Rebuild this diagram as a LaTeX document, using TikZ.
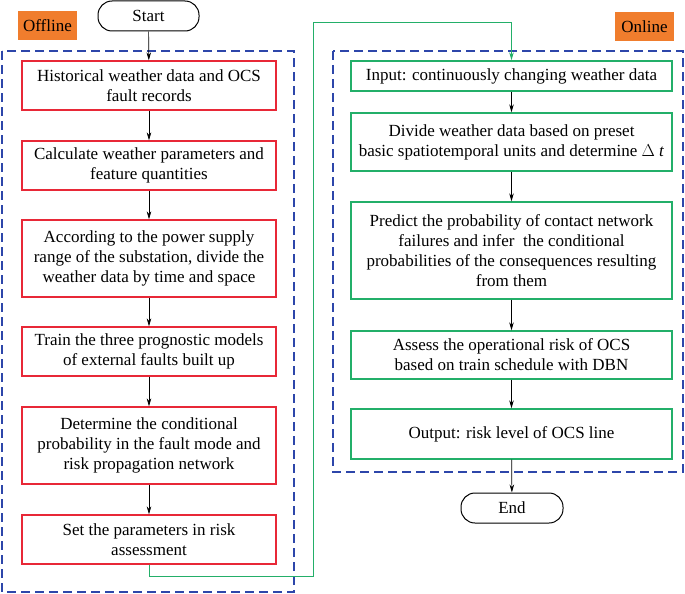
\documentclass[tikz,border=0pt]{standalone}
\usepackage{fontspec}
\setmainfont{Liberation Serif}
\usetikzlibrary{arrows.meta}
\definecolor{redb}{RGB}{232,40,55}
\definecolor{greenb}{RGB}{35,175,105}
\definecolor{blued}{RGB}{45,70,170}
\definecolor{orangef}{RGB}{240,125,45}
\begin{document}
\begin{tikzpicture}[x=1pt,y=-1pt,font=\fontsize{17}{20}\selectfont,
  rbox/.style={draw=redb,line width=1.3pt,align=center,inner sep=0pt,minimum width=254pt},
  gbox/.style={draw=greenb,line width=1.3pt,align=center,inner sep=0pt,minimum width=321pt},
  term/.style={draw,line width=1pt,rounded corners=14pt,inner sep=0pt,minimum height=30pt},
  tag/.style={fill=orangef,inner sep=0pt,minimum width=59pt,minimum height=29pt},
  arr/.style={-{Stealth[length=8pt,width=4.5pt]},line width=0.7pt},
  dbox/.style={draw=blued,line width=1.6pt,dash pattern=on 9pt off 5pt}]
\useasboundingbox (0,0) rectangle (685,594);
% dashed regions
\draw[dbox] (2,51) rectangle (294,592);
\draw[dbox] (333,51) rectangle (683,472);
% labels
\node[tag] (offline) at (47.5,26) {Offline};
\node[tag] (online) at (644.5,26.5) {Online};
% terminals
\node[term,minimum width=101pt] (start) at (148.5,16) {Start};
\node[term,minimum width=102pt] (end) at (512,508) {End};
% offline steps
\node[rbox,minimum height=49pt] (r1) at (149,85.5) {Historical weather data and OCS\\fault records};
\node[rbox,minimum height=49pt] (r2) at (149,165.5) {Calculate weather parameters and\\feature quantities};
\node[rbox,minimum height=77pt] (r3) at (149,258.5) {According to the power supply\\range of the substation, divide the\\weather data by time and space};
\node[rbox,minimum height=49pt] (r4) at (149,351.5) {Train the three prognostic models\\of external faults built up};
\node[rbox,minimum height=77pt] (r5) at (149,445.5) {Determine the conditional\\probability in the fault mode and\\risk propagation network};
\node[rbox,minimum height=49pt] (r6) at (149,539.5) {Set the parameters in risk\\assessment};
% online steps
\node[gbox,minimum height=30pt] (g1) at (511.5,76) {Input: continuously changing weather data};
\node[gbox,minimum height=58pt] (g2) at (511.5,142) {Divide weather data based on preset\\basic spatiotemporal units and determine $\Delta$ \textit{t}};
\node[gbox,minimum height=97pt] (g3) at (511.5,250.5) {Predict the probability of contact network\\failures and infer\ \ the conditional\\probabilities of the consequences resulting\\from them};
\node[gbox,minimum height=48pt] (g4) at (511.5,355) {Assess the operational risk of OCS\\based on train schedule with DBN};
\node[gbox,minimum height=50pt] (g5) at (511.5,434) {Output: risk level of OCS line};
% connectors
\draw[arr] (start) -- (r1);
\draw[arr] (r1) -- (r2);
\draw[arr] (r2) -- (r3);
\draw[arr] (r3) -- (r4);
\draw[arr] (r4) -- (r5);
\draw[arr] (r5) -- (r6);
\draw[arr] (g1) -- (g2);
\draw[arr] (g2) -- (g3);
\draw[arr] (g3) -- (g4);
\draw[arr] (g4) -- (g5);
\draw[arr] (g5) -- (end);
\coordinate (c1) at (313,576);
\coordinate (c2) at (313,23);
\draw[arr,draw=greenb,line width=1pt] (r6.south) |- (c1) -- (c2) -| (g1.north);
\end{tikzpicture}
\end{document}
